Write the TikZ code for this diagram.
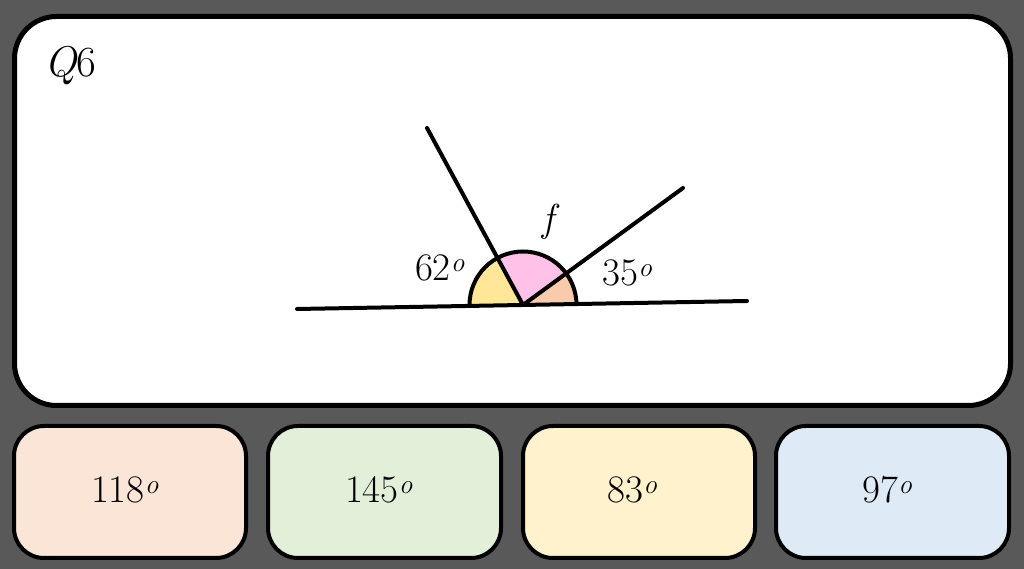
\documentclass[tikz,border=0pt]{standalone}
\usepackage{fontspec}
\usetikzlibrary{calc}
\definecolor{bg}{HTML}{595959}
\definecolor{cA}{HTML}{FBE5D6}
\definecolor{cB}{HTML}{E2F0D9}
\definecolor{cC}{HTML}{FFF2CC}
\definecolor{cD}{HTML}{DEEBF7}
\definecolor{wY}{HTML}{FFE699}
\definecolor{wP}{HTML}{FFC1E8}
\definecolor{wO}{HTML}{F8CBAD}
\newcommand{\dego}{\textsuperscript{\itshape o}}
\tikzset{
  ansbox/.style={draw=black,line width=4pt,rounded corners=30pt},
  big/.style={font=\fontsize{39}{42}\selectfont,inner sep=0pt},
  ray/.style={line width=4pt,line cap=round},
}
\begin{document}
\begin{tikzpicture}[x=1pt,y=1pt]
\useasboundingbox (0,0) rectangle (1024,569);
\fill[bg] (0,0) rectangle (1024,569);
\draw[fill=white,line width=5pt,rounded corners=42pt] (14.5,163.5) rectangle (1010.5,552.5);
\node[big,font=\fontsize{43}{46}\selectfont] (q) at (70,503) {{\itshape Q}6};
% answer boxes
\draw[ansbox,fill=cA] (14,11) rectangle (246,143);
\draw[ansbox,fill=cB] (268,11) rectangle (501,143);
\draw[ansbox,fill=cC] (523,11) rectangle (755,143);
\draw[ansbox,fill=cD] (776,11) rectangle (1009,143);
\node[big] (a1) at (125,79) {118\dego};
\node[big] (a2) at (379,79) {145\dego};
\node[big] (a3) at (632.5,79) {83\dego};
\node[big] (a4) at (887.5,79) {97\dego};
% figure
\coordinate (V) at (523,264);
\coordinate (A) at (297,260);
\coordinate (B) at (747,268);
\coordinate (L) at (427,441);
\coordinate (R) at (683,381);
\fill[wY] (V) -- ++(180:53.5) arc (180:118.5:53.5) -- cycle;
\fill[wP] (V) -- ++(118.5:53.5) arc (118.5:36.2:53.5) -- cycle;
\fill[wO] (V) -- ++(36.2:53.5) arc (36.2:0:53.5) -- cycle;
\draw[line width=4pt] ($(V)+(53.5,0)$) arc (0:180:53.5);
\draw[ray] (V) -- (L);
\draw[ray] (V) -- (R);
\draw[ray] (A) -- (B);
\node[big] (t62) at (440,301) {62\dego};
\node[big] (tf) at (548,347) {\itshape f};
\node[big] (t35) at (627.5,296) {35\dego};
\end{tikzpicture}
\end{document}
